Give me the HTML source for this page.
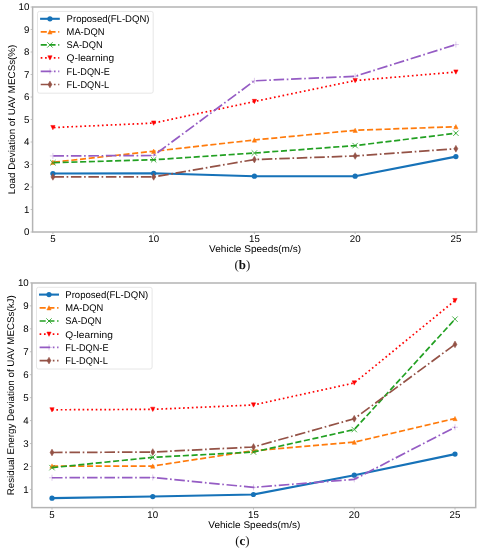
<!DOCTYPE html>
<html><head><meta charset="utf-8"><style>
html,body{margin:0;padding:0;background:#fff;}
svg{display:block;will-change:transform;}
text{text-rendering:geometricPrecision;font-family:"Liberation Sans",sans-serif;fill:#000000;stroke:#000000;stroke-width:0px;}
.tk{font-size:9.7px;}
.lg{font-size:9.7px;}
.lb{font-size:9.7px;}
.yl{font-size:9.7px;}
.cp{font-family:"Liberation Serif",serif;font-size:12.9px;fill:#111;stroke:none;}
</style></head><body>
<svg width="479" height="550" viewBox="0 0 479 550">
<rect width="479" height="550" fill="#fff"/>
<path d="M52.90,173.50 L153.65,173.28 L254.40,176.20 L355.15,176.20 L455.90,156.62" fill="none" stroke="#1672b8" stroke-width="2.1" stroke-linecap="butt" stroke-linejoin="round"/><circle cx="52.90" cy="173.50" r="2.6" fill="#1672b8"/><circle cx="153.65" cy="173.28" r="2.6" fill="#1672b8"/><circle cx="254.40" cy="176.20" r="2.6" fill="#1672b8"/><circle cx="355.15" cy="176.20" r="2.6" fill="#1672b8"/><circle cx="455.90" cy="156.62" r="2.6" fill="#1672b8"/>
<path d="M52.90,162.25 L153.65,151.23 L254.40,139.98 L355.15,130.30 L455.90,126.70" fill="none" stroke="#ff7b0c" stroke-width="1.7" stroke-dasharray="6.105 2.64" stroke-dashoffset="-1.0" stroke-linecap="butt" stroke-linejoin="round"/><polygon points="52.90,160.10 50.75,164.40 55.05,164.40" fill="#ff7b0c" stroke="#ff7b0c" stroke-width="0.5" stroke-linejoin="miter"/><polygon points="153.65,149.08 151.50,153.38 155.80,153.38" fill="#ff7b0c" stroke="#ff7b0c" stroke-width="0.5" stroke-linejoin="miter"/><polygon points="254.40,137.83 252.25,142.13 256.55,142.13" fill="#ff7b0c" stroke="#ff7b0c" stroke-width="0.5" stroke-linejoin="miter"/><polygon points="355.15,128.15 353.00,132.45 357.30,132.45" fill="#ff7b0c" stroke="#ff7b0c" stroke-width="0.5" stroke-linejoin="miter"/><polygon points="455.90,124.55 453.75,128.85 458.05,128.85" fill="#ff7b0c" stroke="#ff7b0c" stroke-width="0.5" stroke-linejoin="miter"/>
<path d="M52.90,162.70 L153.65,159.78 L254.40,153.03 L355.15,145.60 L455.90,133.23" fill="none" stroke="#22a022" stroke-width="1.7" stroke-dasharray="6.105 2.64" stroke-dashoffset="-1.0" stroke-linecap="butt" stroke-linejoin="round"/><path d="M50.20,160.00L55.60,165.40M50.20,165.40L55.60,160.00" stroke="#22a022" stroke-width="0.8" fill="none"/><path d="M150.95,157.08L156.35,162.47M150.95,162.47L156.35,157.08" stroke="#22a022" stroke-width="0.8" fill="none"/><path d="M251.70,150.33L257.10,155.72M251.70,155.72L257.10,150.33" stroke="#22a022" stroke-width="0.8" fill="none"/><path d="M352.45,142.90L357.85,148.30M352.45,148.30L357.85,142.90" stroke="#22a022" stroke-width="0.8" fill="none"/><path d="M453.20,130.53L458.60,135.93M453.20,135.93L458.60,130.53" stroke="#22a022" stroke-width="0.8" fill="none"/>
<path d="M52.90,127.60 L153.65,123.10 L254.40,101.50 L355.15,80.57 L455.90,72.03" fill="none" stroke="#ff0000" stroke-width="1.7" stroke-dasharray="1.65 2.72" stroke-dashoffset="-1.0" stroke-linecap="butt" stroke-linejoin="round"/><polygon points="52.90,129.75 50.75,125.45 55.05,125.45" fill="#ff0000" stroke="#ff0000" stroke-width="0.5"/><polygon points="153.65,125.25 151.50,120.95 155.80,120.95" fill="#ff0000" stroke="#ff0000" stroke-width="0.5"/><polygon points="254.40,103.65 252.25,99.35 256.55,99.35" fill="#ff0000" stroke="#ff0000" stroke-width="0.5"/><polygon points="355.15,82.72 353.00,78.42 357.30,78.42" fill="#ff0000" stroke="#ff0000" stroke-width="0.5"/><polygon points="455.90,74.18 453.75,69.88 458.05,69.88" fill="#ff0000" stroke="#ff0000" stroke-width="0.5"/>
<path d="M52.90,155.95 L153.65,155.50 L254.40,80.80 L355.15,76.30 L455.90,44.57" fill="none" stroke="#955cc4" stroke-width="1.7" stroke-dasharray="10.56 2.64 1.65 2.64" stroke-dashoffset="-0.5" stroke-linecap="butt" stroke-linejoin="round"/><path d="M49.90,155.95L55.90,155.95M52.90,152.95L52.90,158.95" stroke="#955cc4" stroke-width="0.7" fill="none" opacity="0.45"/><path d="M150.65,155.50L156.65,155.50M153.65,152.50L153.65,158.50" stroke="#955cc4" stroke-width="0.7" fill="none" opacity="0.45"/><path d="M251.40,80.80L257.40,80.80M254.40,77.80L254.40,83.80" stroke="#955cc4" stroke-width="0.7" fill="none" opacity="0.45"/><path d="M352.15,76.30L358.15,76.30M355.15,73.30L355.15,79.30" stroke="#955cc4" stroke-width="0.7" fill="none" opacity="0.45"/><path d="M452.90,44.57L458.90,44.57M455.90,41.57L455.90,47.57" stroke="#955cc4" stroke-width="0.7" fill="none" opacity="0.45"/>
<path d="M52.90,176.88 L153.65,176.88 L254.40,159.55 L355.15,155.95 L455.90,148.75" fill="none" stroke="#945246" stroke-width="1.7" stroke-dasharray="10.56 2.64 1.65 2.64" stroke-dashoffset="-0.5" stroke-linecap="butt" stroke-linejoin="round"/><polygon points="52.90,173.47 54.90,176.88 52.90,180.28 50.90,176.88" fill="#945246" stroke="#945246" stroke-width="0.5"/><polygon points="153.65,173.47 155.65,176.88 153.65,180.28 151.65,176.88" fill="#945246" stroke="#945246" stroke-width="0.5"/><polygon points="254.40,156.15 256.40,159.55 254.40,162.95 252.40,159.55" fill="#945246" stroke="#945246" stroke-width="0.5"/><polygon points="355.15,152.55 357.15,155.95 355.15,159.35 353.15,155.95" fill="#945246" stroke="#945246" stroke-width="0.5"/><polygon points="455.90,145.35 457.90,148.75 455.90,152.15 453.90,148.75" fill="#945246" stroke="#945246" stroke-width="0.5"/>
<rect x="37.5" y="11.4" width="115.69999999999999" height="81.8" rx="2" fill="#fff" fill-opacity="0.8" stroke="#e6e6e6" stroke-width="1"/>
<path d="M40.1,18.8L59.8,18.8" stroke="#1672b8" stroke-width="2.1" fill="none"/>
<circle cx="49.95" cy="18.80" r="2.6" fill="#1672b8"/>
<text x="66.6" y="22.2" class="lg" textLength="82.94" lengthAdjust="spacingAndGlyphs">Proposed(FL-DQN)</text>
<path d="M40.1,31.9L59.3,31.9" stroke="#ff7b0c" stroke-width="1.7" stroke-dasharray="6.105 2.64" stroke-dashoffset="-0.6" fill="none"/>
<polygon points="49.95,29.75 47.80,34.05 52.10,34.05" fill="#ff7b0c" stroke="#ff7b0c" stroke-width="0.5" stroke-linejoin="miter"/>
<text x="66.6" y="35.3" class="lg" textLength="37.93" lengthAdjust="spacingAndGlyphs">MA-DQN</text>
<path d="M40.1,44.9L59.3,44.9" stroke="#22a022" stroke-width="1.7" stroke-dasharray="6.105 2.64" stroke-dashoffset="-0.6" fill="none"/>
<path d="M47.25,42.20L52.65,47.60M47.25,47.60L52.65,42.20" stroke="#22a022" stroke-width="0.8" fill="none"/>
<text x="66.6" y="48.3" class="lg" textLength="36.03" lengthAdjust="spacingAndGlyphs">SA-DQN</text>
<path d="M40.1,57.9L59.3,57.9" stroke="#ff0000" stroke-width="1.7" stroke-dasharray="1.65 2.72" stroke-dashoffset="-0.6" fill="none"/>
<polygon points="49.95,60.05 47.80,55.75 52.10,55.75" fill="#ff0000" stroke="#ff0000" stroke-width="0.5"/>
<text x="66.6" y="61.3" class="lg" textLength="47.56" lengthAdjust="spacingAndGlyphs">Q-learning</text>
<path d="M40.1,71.4L59.3,71.4" stroke="#955cc4" stroke-width="1.7" stroke-dasharray="10.56 2.64 1.65 2.64" stroke-dashoffset="-0.6" fill="none"/>
<path d="M46.95,71.40L52.95,71.40M49.95,68.40L49.95,74.40" stroke="#955cc4" stroke-width="0.7" fill="none" opacity="0.45"/>
<text x="66.6" y="74.80000000000001" class="lg" textLength="43.20" lengthAdjust="spacingAndGlyphs">FL-DQN-E</text>
<path d="M40.1,84.5L59.3,84.5" stroke="#945246" stroke-width="1.7" stroke-dasharray="10.56 2.64 1.65 2.64" stroke-dashoffset="-0.6" fill="none"/>
<polygon points="49.95,81.10 51.95,84.50 49.95,87.90 47.95,84.50" fill="#945246" stroke="#945246" stroke-width="0.5"/>
<text x="66.6" y="87.9" class="lg" textLength="42.52" lengthAdjust="spacingAndGlyphs">FL-DQN-L</text>
<rect x="32.6" y="7" width="444.0" height="225" fill="none" stroke="#b4b4b4" stroke-width="1.5"/>
<path d="M52.90,232L52.90,234" stroke="#b4b4b4" stroke-width="0.8"/>
<text x="52.90" y="241.50" class="tk" text-anchor="middle">5</text>
<path d="M153.65,232L153.65,234" stroke="#b4b4b4" stroke-width="0.8"/>
<text x="153.65" y="241.50" class="tk" text-anchor="middle">10</text>
<path d="M254.40,232L254.40,234" stroke="#b4b4b4" stroke-width="0.8"/>
<text x="254.40" y="241.50" class="tk" text-anchor="middle">15</text>
<path d="M355.15,232L355.15,234" stroke="#b4b4b4" stroke-width="0.8"/>
<text x="355.15" y="241.50" class="tk" text-anchor="middle">20</text>
<path d="M455.90,232L455.90,234" stroke="#b4b4b4" stroke-width="0.8"/>
<text x="455.90" y="241.50" class="tk" text-anchor="middle">25</text>
<path d="M30.6,232.00L32.6,232.00" stroke="#b4b4b4" stroke-width="0.8"/>
<text x="29.40" y="235.05" class="tk" text-anchor="end">0</text>
<path d="M30.6,209.50L32.6,209.50" stroke="#b4b4b4" stroke-width="0.8"/>
<text x="29.40" y="212.55" class="tk" text-anchor="end">1</text>
<path d="M30.6,187.00L32.6,187.00" stroke="#b4b4b4" stroke-width="0.8"/>
<text x="29.40" y="190.05" class="tk" text-anchor="end">2</text>
<path d="M30.6,164.50L32.6,164.50" stroke="#b4b4b4" stroke-width="0.8"/>
<text x="29.40" y="167.55" class="tk" text-anchor="end">3</text>
<path d="M30.6,142.00L32.6,142.00" stroke="#b4b4b4" stroke-width="0.8"/>
<text x="29.40" y="145.05" class="tk" text-anchor="end">4</text>
<path d="M30.6,119.50L32.6,119.50" stroke="#b4b4b4" stroke-width="0.8"/>
<text x="29.40" y="122.55" class="tk" text-anchor="end">5</text>
<path d="M30.6,97.00L32.6,97.00" stroke="#b4b4b4" stroke-width="0.8"/>
<text x="29.40" y="100.05" class="tk" text-anchor="end">6</text>
<path d="M30.6,74.50L32.6,74.50" stroke="#b4b4b4" stroke-width="0.8"/>
<text x="29.40" y="77.55" class="tk" text-anchor="end">7</text>
<path d="M30.6,52.00L32.6,52.00" stroke="#b4b4b4" stroke-width="0.8"/>
<text x="29.40" y="55.05" class="tk" text-anchor="end">8</text>
<path d="M30.6,29.50L32.6,29.50" stroke="#b4b4b4" stroke-width="0.8"/>
<text x="29.40" y="32.55" class="tk" text-anchor="end">9</text>
<path d="M30.6,7.00L32.6,7.00" stroke="#b4b4b4" stroke-width="0.8"/>
<text x="29.40" y="10.05" class="tk" text-anchor="end">10</text>
<text x="255.10" y="252.3" class="lb" text-anchor="middle" textLength="91.97" lengthAdjust="spacingAndGlyphs">Vehicle Speeds(m/s)</text>
<text transform="translate(14.6,119.5) rotate(-90)" class="yl" text-anchor="middle" textLength="149.62" lengthAdjust="spacingAndGlyphs">Load Deviation of UAV MECSs(%)</text>
<text x="242.4" y="268.7" class="cp" text-anchor="middle">(<tspan font-weight="bold">b</tspan>)</text>
<path d="M52.00,498.17 L152.75,496.56 L253.50,494.50 L354.25,475.22 L455.00,454.11" fill="none" stroke="#1672b8" stroke-width="2.1" stroke-linecap="butt" stroke-linejoin="round"/><circle cx="52.00" cy="498.17" r="2.6" fill="#1672b8"/><circle cx="152.75" cy="496.56" r="2.6" fill="#1672b8"/><circle cx="253.50" cy="494.50" r="2.6" fill="#1672b8"/><circle cx="354.25" cy="475.22" r="2.6" fill="#1672b8"/><circle cx="455.00" cy="454.11" r="2.6" fill="#1672b8"/>
<path d="M52.00,466.04 L152.75,466.04 L253.50,450.66 L354.25,442.17 L455.00,418.53" fill="none" stroke="#ff7b0c" stroke-width="1.7" stroke-dasharray="6.105 2.64" stroke-dashoffset="0.0" stroke-linecap="butt" stroke-linejoin="round"/><polygon points="52.00,463.89 49.85,468.19 54.15,468.19" fill="#ff7b0c" stroke="#ff7b0c" stroke-width="0.5" stroke-linejoin="miter"/><polygon points="152.75,463.89 150.60,468.19 154.90,468.19" fill="#ff7b0c" stroke="#ff7b0c" stroke-width="0.5" stroke-linejoin="miter"/><polygon points="253.50,448.51 251.35,452.81 255.65,452.81" fill="#ff7b0c" stroke="#ff7b0c" stroke-width="0.5" stroke-linejoin="miter"/><polygon points="354.25,440.02 352.10,444.32 356.40,444.32" fill="#ff7b0c" stroke="#ff7b0c" stroke-width="0.5" stroke-linejoin="miter"/><polygon points="455.00,416.38 452.85,420.68 457.15,420.68" fill="#ff7b0c" stroke="#ff7b0c" stroke-width="0.5" stroke-linejoin="miter"/>
<path d="M52.00,467.65 L152.75,457.32 L253.50,452.04 L354.25,429.55 L455.00,319.16" fill="none" stroke="#22a022" stroke-width="1.7" stroke-dasharray="6.105 2.64" stroke-dashoffset="-0.2" stroke-linecap="butt" stroke-linejoin="round"/><path d="M49.30,464.95L54.70,470.35M49.30,470.35L54.70,464.95" stroke="#22a022" stroke-width="0.8" fill="none"/><path d="M150.05,454.62L155.45,460.02M150.05,460.02L155.45,454.62" stroke="#22a022" stroke-width="0.8" fill="none"/><path d="M250.80,449.34L256.20,454.74M250.80,454.74L256.20,449.34" stroke="#22a022" stroke-width="0.8" fill="none"/><path d="M351.55,426.85L356.95,432.25M351.55,432.25L356.95,426.85" stroke="#22a022" stroke-width="0.8" fill="none"/><path d="M452.30,316.46L457.70,321.86M452.30,321.86L457.70,316.46" stroke="#22a022" stroke-width="0.8" fill="none"/>
<path d="M52.00,409.81 L152.75,409.35 L253.50,404.99 L354.25,382.96 L455.00,300.57" fill="none" stroke="#ff0000" stroke-width="1.7" stroke-dasharray="1.65 2.72" stroke-dashoffset="0.0" stroke-linecap="butt" stroke-linejoin="round"/><polygon points="52.00,411.96 49.85,407.66 54.15,407.66" fill="#ff0000" stroke="#ff0000" stroke-width="0.5"/><polygon points="152.75,411.50 150.60,407.20 154.90,407.20" fill="#ff0000" stroke="#ff0000" stroke-width="0.5"/><polygon points="253.50,407.14 251.35,402.84 255.65,402.84" fill="#ff0000" stroke="#ff0000" stroke-width="0.5"/><polygon points="354.25,385.11 352.10,380.81 356.40,380.81" fill="#ff0000" stroke="#ff0000" stroke-width="0.5"/><polygon points="455.00,302.72 452.85,298.42 457.15,298.42" fill="#ff0000" stroke="#ff0000" stroke-width="0.5"/>
<path d="M52.00,477.75 L152.75,477.52 L253.50,487.38 L354.25,479.35 L455.00,427.26" fill="none" stroke="#955cc4" stroke-width="1.7" stroke-dasharray="10.56 2.64 1.65 2.64" stroke-dashoffset="0.0" stroke-linecap="butt" stroke-linejoin="round"/><path d="M49.00,477.75L55.00,477.75M52.00,474.75L52.00,480.75" stroke="#955cc4" stroke-width="0.7" fill="none" opacity="0.45"/><path d="M149.75,477.52L155.75,477.52M152.75,474.52L152.75,480.52" stroke="#955cc4" stroke-width="0.7" fill="none" opacity="0.45"/><path d="M250.50,487.38L256.50,487.38M253.50,484.38L253.50,490.38" stroke="#955cc4" stroke-width="0.7" fill="none" opacity="0.45"/><path d="M351.25,479.35L357.25,479.35M354.25,476.35L354.25,482.35" stroke="#955cc4" stroke-width="0.7" fill="none" opacity="0.45"/><path d="M452.00,427.26L458.00,427.26M455.00,424.26L455.00,430.26" stroke="#955cc4" stroke-width="0.7" fill="none" opacity="0.45"/>
<path d="M52.00,452.50 L152.75,452.04 L253.50,446.99 L354.25,418.76 L455.00,344.41" fill="none" stroke="#945246" stroke-width="1.7" stroke-dasharray="10.56 2.64 1.65 2.64" stroke-dashoffset="0.0" stroke-linecap="butt" stroke-linejoin="round"/><polygon points="52.00,449.10 54.00,452.50 52.00,455.90 50.00,452.50" fill="#945246" stroke="#945246" stroke-width="0.5"/><polygon points="152.75,448.64 154.75,452.04 152.75,455.44 150.75,452.04" fill="#945246" stroke="#945246" stroke-width="0.5"/><polygon points="253.50,443.59 255.50,446.99 253.50,450.39 251.50,446.99" fill="#945246" stroke="#945246" stroke-width="0.5"/><polygon points="354.25,415.36 356.25,418.76 354.25,422.16 352.25,418.76" fill="#945246" stroke="#945246" stroke-width="0.5"/><polygon points="455.00,341.01 457.00,344.41 455.00,347.81 453.00,344.41" fill="#945246" stroke="#945246" stroke-width="0.5"/>
<rect x="36.5" y="287.3" width="115.6" height="81.69999999999999" rx="2" fill="#fff" fill-opacity="0.8" stroke="#e6e6e6" stroke-width="1"/>
<path d="M39,294.6L59,294.6" stroke="#1672b8" stroke-width="2.1" fill="none"/>
<circle cx="49.00" cy="294.60" r="2.6" fill="#1672b8"/>
<text x="65.3" y="298.0" class="lg" textLength="82.94" lengthAdjust="spacingAndGlyphs">Proposed(FL-DQN)</text>
<path d="M39,307.8L58.5,307.8" stroke="#ff7b0c" stroke-width="1.7" stroke-dasharray="6.105 2.64" stroke-dashoffset="-0.6" fill="none"/>
<polygon points="49.00,305.65 46.85,309.95 51.15,309.95" fill="#ff7b0c" stroke="#ff7b0c" stroke-width="0.5" stroke-linejoin="miter"/>
<text x="65.3" y="311.2" class="lg" textLength="37.93" lengthAdjust="spacingAndGlyphs">MA-DQN</text>
<path d="M39,321.0L58.5,321.0" stroke="#22a022" stroke-width="1.7" stroke-dasharray="6.105 2.64" stroke-dashoffset="-0.6" fill="none"/>
<path d="M46.30,318.30L51.70,323.70M46.30,323.70L51.70,318.30" stroke="#22a022" stroke-width="0.8" fill="none"/>
<text x="65.3" y="324.4" class="lg" textLength="36.03" lengthAdjust="spacingAndGlyphs">SA-DQN</text>
<path d="M39,334.2L58.5,334.2" stroke="#ff0000" stroke-width="1.7" stroke-dasharray="1.65 2.72" stroke-dashoffset="-0.6" fill="none"/>
<polygon points="49.00,336.35 46.85,332.05 51.15,332.05" fill="#ff0000" stroke="#ff0000" stroke-width="0.5"/>
<text x="65.3" y="337.59999999999997" class="lg" textLength="47.56" lengthAdjust="spacingAndGlyphs">Q-learning</text>
<path d="M39,347.4L58.5,347.4" stroke="#955cc4" stroke-width="1.7" stroke-dasharray="10.56 2.64 1.65 2.64" stroke-dashoffset="-0.6" fill="none"/>
<path d="M46.00,347.40L52.00,347.40M49.00,344.40L49.00,350.40" stroke="#955cc4" stroke-width="0.7" fill="none" opacity="0.45"/>
<text x="65.3" y="350.79999999999995" class="lg" textLength="43.20" lengthAdjust="spacingAndGlyphs">FL-DQN-E</text>
<path d="M39,360.6L58.5,360.6" stroke="#945246" stroke-width="1.7" stroke-dasharray="10.56 2.64 1.65 2.64" stroke-dashoffset="-0.6" fill="none"/>
<polygon points="49.00,357.20 51.00,360.60 49.00,364.00 47.00,360.60" fill="#945246" stroke="#945246" stroke-width="0.5"/>
<text x="65.3" y="364.0" class="lg" textLength="42.52" lengthAdjust="spacingAndGlyphs">FL-DQN-L</text>
<rect x="31.9" y="283" width="443.8" height="224.60000000000002" fill="none" stroke="#b4b4b4" stroke-width="1.5"/>
<path d="M52.00,507.6L52.00,509.6" stroke="#b4b4b4" stroke-width="0.8"/>
<text x="52.00" y="518.00" class="tk" text-anchor="middle">5</text>
<path d="M152.75,507.6L152.75,509.6" stroke="#b4b4b4" stroke-width="0.8"/>
<text x="152.75" y="518.00" class="tk" text-anchor="middle">10</text>
<path d="M253.50,507.6L253.50,509.6" stroke="#b4b4b4" stroke-width="0.8"/>
<text x="253.50" y="518.00" class="tk" text-anchor="middle">15</text>
<path d="M354.25,507.6L354.25,509.6" stroke="#b4b4b4" stroke-width="0.8"/>
<text x="354.25" y="518.00" class="tk" text-anchor="middle">20</text>
<path d="M455.00,507.6L455.00,509.6" stroke="#b4b4b4" stroke-width="0.8"/>
<text x="455.00" y="518.00" class="tk" text-anchor="middle">25</text>
<path d="M29.9,489.45L31.9,489.45" stroke="#b4b4b4" stroke-width="0.8"/>
<text x="28.70" y="492.50" class="tk" text-anchor="end">1</text>
<path d="M29.9,466.50L31.9,466.50" stroke="#b4b4b4" stroke-width="0.8"/>
<text x="28.70" y="469.55" class="tk" text-anchor="end">2</text>
<path d="M29.9,443.55L31.9,443.55" stroke="#b4b4b4" stroke-width="0.8"/>
<text x="28.70" y="446.60" class="tk" text-anchor="end">3</text>
<path d="M29.9,420.60L31.9,420.60" stroke="#b4b4b4" stroke-width="0.8"/>
<text x="28.70" y="423.65" class="tk" text-anchor="end">4</text>
<path d="M29.9,397.65L31.9,397.65" stroke="#b4b4b4" stroke-width="0.8"/>
<text x="28.70" y="400.70" class="tk" text-anchor="end">5</text>
<path d="M29.9,374.70L31.9,374.70" stroke="#b4b4b4" stroke-width="0.8"/>
<text x="28.70" y="377.75" class="tk" text-anchor="end">6</text>
<path d="M29.9,351.75L31.9,351.75" stroke="#b4b4b4" stroke-width="0.8"/>
<text x="28.70" y="354.80" class="tk" text-anchor="end">7</text>
<path d="M29.9,328.80L31.9,328.80" stroke="#b4b4b4" stroke-width="0.8"/>
<text x="28.70" y="331.85" class="tk" text-anchor="end">8</text>
<path d="M29.9,305.85L31.9,305.85" stroke="#b4b4b4" stroke-width="0.8"/>
<text x="28.70" y="308.90" class="tk" text-anchor="end">9</text>
<path d="M29.9,282.90L31.9,282.90" stroke="#b4b4b4" stroke-width="0.8"/>
<text x="28.70" y="285.95" class="tk" text-anchor="end">10</text>
<text x="254.30" y="528" class="lb" text-anchor="middle" textLength="91.97" lengthAdjust="spacingAndGlyphs">Vehicle Speeds(m/s)</text>
<text transform="translate(13.7,395.3) rotate(-90)" class="yl" text-anchor="middle" textLength="200.00" lengthAdjust="spacingAndGlyphs">Residual Energy Deviation of UAV MECSs(kJ)</text>
<text x="242.4" y="545.4" class="cp" text-anchor="middle">(<tspan font-weight="bold">c</tspan>)</text>
</svg>
</body></html>
